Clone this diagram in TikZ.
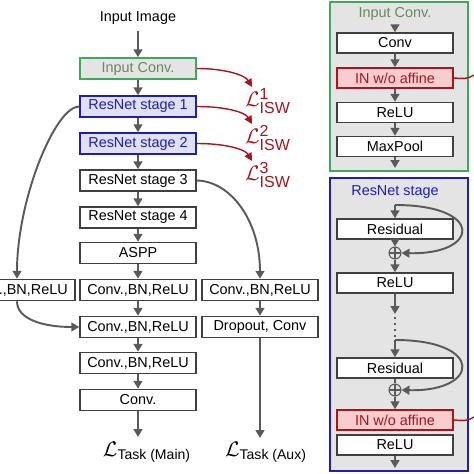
\documentclass[tikz,border=0pt]{standalone}
\usepackage{fontspec}
\setmainfont{Liberation Sans}
\usepackage{amsmath}
\usetikzlibrary{calc,arrows.meta}
\definecolor{nnedge}{RGB}{64,64,64}
\definecolor{nnarrow}{RGB}{90,90,90}
\definecolor{nngreen}{RGB}{60,170,90}
\definecolor{nnolive}{RGB}{105,135,95}
\definecolor{nnblue}{RGB}{30,30,180}
\definecolor{nnred}{RGB}{170,20,30}
\definecolor{nnpink}{RGB}{248,205,205}
\definecolor{nnlight}{RGB}{228,228,228}
\definecolor{nnlav}{RGB}{224,224,238}

\begin{document}
\begin{tikzpicture}[x=0.02cm,y=-0.02cm,font=\fontsize{8.2}{10}\selectfont,
  blk/.style={draw=nnedge,line width=0.9pt,fill=white,text=black,minimum width=2.32cm,minimum height=0.42cm,inner sep=0pt},
  sblk/.style={blk,minimum height=0.40cm},
  stg/.style={blk,draw=nnblue,fill=nnlav,text=nnblue},
  inc/.style={blk,draw=nngreen,fill=nnlight,text=nnolive},
  inw/.style={sblk,draw=nnred,fill=nnpink,text=nnred},
  arr/.style={draw=nnarrow,line width=1.1pt,-{Triangle[length=4.5pt,width=5pt]}},
  redarr/.style={draw=nnred,line width=0.8pt,-{Triangle[length=4.5pt,width=4.5pt]}},
  addop/.style={circle,draw=nnarrow,line width=0.6pt,minimum size=0.24cm,inner sep=0pt,
    path picture={\draw[nnarrow,line width=0.6pt] (path picture bounding box.north) -- (path picture bounding box.south)
      (path picture bounding box.west) -- (path picture bounding box.east);}},
  loss/.style={font=\fontsize{12}{14}\selectfont,inner sep=1pt}]
\useasboundingbox (0,0) rectangle (474,474);
\clip (0,0) rectangle (474,474);

% Main branch
\node (img) at (138,18) {Input Image};
\node[inc] (inconv) at (138,68.5) {Input Conv.};
\node[stg] (s1) at (138,106.5) {ResNet stage 1};
\node[stg] (s2) at (138,143.5) {ResNet stage 2};
\node[blk] (s3) at (138,180.5) {ResNet stage 3};
\node[blk] (s4) at (138,217.5) {ResNet stage 4};
\node[blk] (aspp) at (138,253) {ASPP};
\node[blk] (c1) at (138,290) {Conv.,BN,ReLU};
\node[blk] (c2) at (138,327) {Conv.,BN,ReLU};
\node[blk] (c3) at (138,363) {Conv.,BN,ReLU};
\node[blk] (cv) at (138,400) {Conv.};
\coordinate (tmain) at (138,437);
\node[loss] (lmain) at (147,452) {$\mathcal{L}_{\text{Task (Main)}}$};

\draw[arr] (img) -- (inconv);
\foreach \a/\b in {inconv/s1,s1/s2,s2/s3,s3/s4,s4/aspp,aspp/c1,c1/c2,c2/c3,c3/cv}
  \draw[arr] (\a) -- (\b);
\draw[arr] (cv) -- (tmain);

% Low-level branch
\node[blk] (cl) at (17,290) {Conv.,BN,ReLU};
\draw[arr] (s1.west) .. controls (55,106.5) and (17,200) .. (cl.north);
\draw[arr] (cl.south) .. controls (17,320) and (45,327) .. (c2.west);

% Auxiliary branch
\node[blk] (ca1) at (260,290) {Conv.,BN,ReLU};
\node[blk] (ca2) at (260,327) {Dropout, Conv};
\coordinate (taux) at (260,438);
\node[loss] (laux) at (266,452) {$\mathcal{L}_{\text{Task (Aux)}}$};
\draw[arr] (s3.east) .. controls (230,181) and (260,220) .. (ca1.north);
\draw[arr] (ca1) -- (ca2);
\draw[arr] (ca2) -- (taux);

% ISW losses
\node[text=nnred,font=\fontsize{13}{14}\selectfont] (l1) at (268,101) {$\mathcal{L}^{\text{1}}_{\text{ISW}}$};
\node[text=nnred,font=\fontsize{13}{14}\selectfont] (l2) at (268,138) {$\mathcal{L}^{\text{2}}_{\text{ISW}}$};
\node[text=nnred,font=\fontsize{13}{14}\selectfont] (l3) at (268,175) {$\mathcal{L}^{\text{3}}_{\text{ISW}}$};
\foreach \src/\lab in {inconv/l1,s1/l2,s2/l3}
  \draw[redarr] (\src.east) .. controls ($(\src.east)+(28,0)$) and ($(\lab)+(-23,-26)$) .. ($(\lab)+(-16,-14)$);

% Input Conv. detail
\draw[nngreen,fill=nnlight,line width=1.1pt] (330,2) rectangle (468,171);
\node[text=nnolive] (ptitle) at (395,14) {Input Conv.};
\node[sblk] (pconv) at (395,43) {Conv};
\node[inw] (pin) at (395,78) {IN w/o affine};
\node[sblk] (prelu) at (395,112.5) {ReLU};
\node[sblk] (pmax) at (395,146.5) {MaxPool};
\coordinate (pout) at (395,168);
\foreach \a/\b in {ptitle/pconv,pconv/pin,pin/prelu,prelu/pmax,pmax/pout}
  \draw[arr] (\a) -- (\b);
\draw[nnred,line width=0.8pt] (pin.east) .. controls (468,79) .. (482,70);

% ResNet stage detail
\draw[nnblue,fill=nnlight,line width=1.1pt] (330,178) rectangle (468,471);
\node[text=nnblue] (rtitle) at (395,192) {ResNet stage};
\coordinate (b1) at (395,205);
\node[sblk] (res1) at (395,229) {Residual};
\node[addop] (plus1) at (395,253) {};
\node[sblk] (rrelu1) at (395,283) {ReLU};
\coordinate (d1) at (395,314);
\coordinate (d2) at (395,317);
\coordinate (d3) at (395,337);
\coordinate (b2) at (395,340);
\node[sblk] (res2) at (395,368) {Residual};
\node[addop] (plus2) at (395,390) {};
\node[inw] (pin2) at (395,420) {IN w/o affine};
\node[sblk] (rrelu2) at (395,445) {ReLU};
\coordinate (rout) at (395,468);

\draw[arr] (rtitle) -- (res1);
\draw[arr] (res1) -- (plus1);
\draw[arr] (plus1) -- (rrelu1);
\draw[arr] (rrelu1) -- (d1);
\draw[nnarrow,line width=1.1pt,dash pattern=on 1pt off 2.5pt] (d2) -- (d3);
\draw[arr] (b2) -- (res2);
\draw[draw=nnarrow,line width=1.1pt] (res2) -- (plus2);
\draw[arr] (plus2) -- (pin2);
\draw[arr] (rrelu2) -- (rout);
\draw[arr] (b1) .. controls (485,205) and (480,255) .. (plus1.east);
\draw[arr] (b2) .. controls (485,340) and (480,392) .. (plus2.east);
\draw[nnred,line width=0.8pt] (pin2.east) .. controls (468,421) .. (482,412);
\end{tikzpicture}
\end{document}
